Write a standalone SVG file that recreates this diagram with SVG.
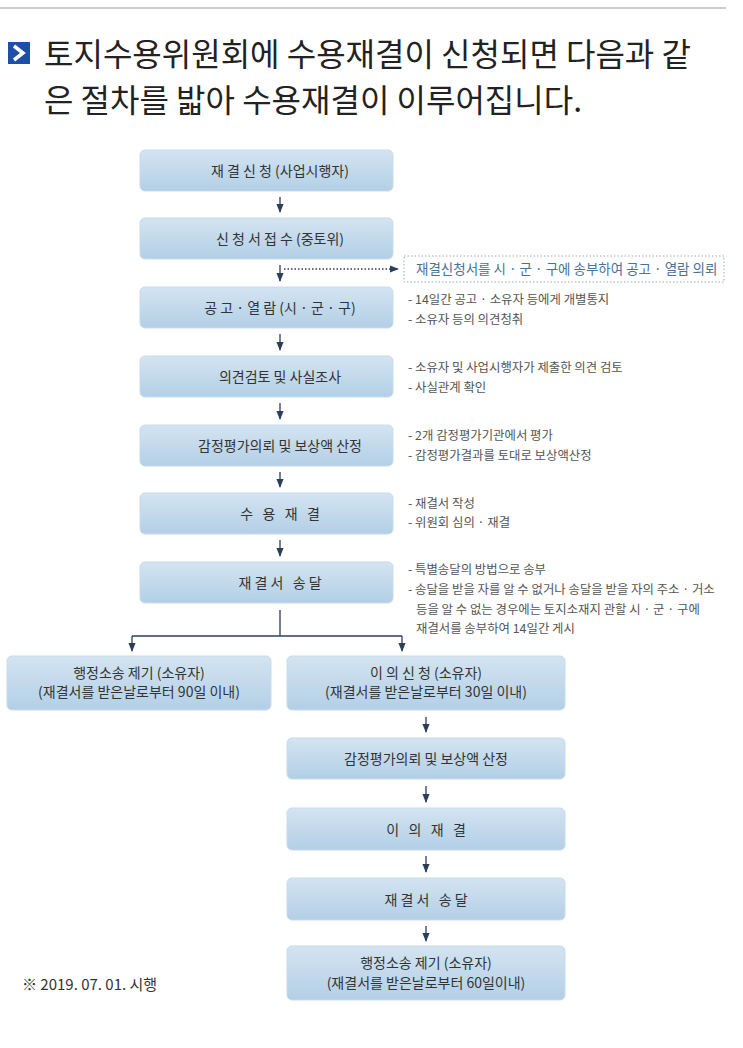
<svg xmlns="http://www.w3.org/2000/svg" width="743" height="1048" viewBox="0 0 743 1048">
<defs>
<linearGradient id="g" x1="0" y1="0" x2="0" y2="1"><stop offset="0" stop-color="#d3e4f1"/><stop offset="1" stop-color="#b3cfe6"/></linearGradient>
<marker id="a" viewBox="0 0 10 10" refX="9" refY="5" markerWidth="7" markerHeight="7" orient="auto"><path d="M0,1 L10,5 L0,9 z" fill="#2c3e5a"/></marker>
<style>
.b{fill:url(#g);stroke:#c8dbea;stroke-width:1}
.t{font-family:"Noto Sans CJK KR",sans-serif;font-size:14px;fill:#333;text-anchor:middle}
.n{font-family:"Noto Sans CJK KR",sans-serif;font-size:12.4px;fill:#555}
.c{stroke:#2c3e5a;stroke-width:1.3;fill:none}
</style>
</defs>
<rect width="743" height="1048" fill="#fff"/>
<line x1="0" y1="8" x2="726" y2="8" stroke="#bbb" stroke-width="1.5"/>
<rect x="8" y="42" width="22" height="22" fill="#1d4fa8"/>
<path d="M14,46 L23,53 L14,60" stroke="#fff" stroke-width="3.5" fill="none"/>
<text x="44" y="66" font-family="Noto Sans CJK KR,sans-serif" font-size="32" fill="#222">토지수용위원회에 수용재결이 신청되면 다음과 같</text>
<text x="44" y="112" font-family="Noto Sans CJK KR,sans-serif" font-size="32" fill="#222">은 절차를 밟아 수용재결이 이루어집니다.</text>
<g id="n1"><rect class="b" x="140" y="150" width="253" height="41" rx="5"/><text class="t" x="280" y="176">재 결 신 청 (사업시행자)</text></g>
<g id="n2"><rect class="b" x="140" y="218" width="253" height="41" rx="5"/><text class="t" x="280" y="244">신 청 서 접 수 (중토위)</text></g>
<g id="n3"><rect class="b" x="140" y="287" width="253" height="41" rx="5"/><text class="t" x="280" y="313">공 고 · 열 람 (시 · 군 · 구)</text></g>
<g id="n4"><rect class="b" x="140" y="356" width="253" height="41" rx="5"/><text class="t" x="280" y="382">의견검토 및 사실조사</text></g>
<g id="n5"><rect class="b" x="140" y="425" width="253" height="41" rx="5"/><text class="t" x="280" y="451">감정평가의뢰 및 보상액 산정</text></g>
<g id="n6"><rect class="b" x="140" y="493" width="253" height="41" rx="5"/><text class="t" x="280" y="519" xml:space="preserve">수   용   재   결</text></g>
<g id="n7"><rect class="b" x="140" y="562" width="253" height="41" rx="5"/><text class="t" x="280" y="588" xml:space="preserve">재 결 서   송 달</text></g>
<g id="n8"><rect class="b" x="7" y="656" width="264" height="54" rx="5"/><text class="t" x="139" y="678" font-size="13">행정소송 제기 (소유자)</text><text class="t" x="139" y="697" font-size="13">(재결서를 받은날로부터 90일 이내)</text></g>
<g id="n9"><rect class="b" x="287" y="656" width="278" height="54" rx="5"/><text class="t" x="426" y="678" font-size="13">이 의 신 청 (소유자)</text><text class="t" x="426" y="697" font-size="13">(재결서를 받은날로부터 30일 이내)</text></g>
<g id="n10"><rect class="b" x="287" y="738" width="278" height="41" rx="5"/><text class="t" x="426" y="764">감정평가의뢰 및 보상액 산정</text></g>
<g id="n11"><rect class="b" x="287" y="808" width="278" height="42" rx="5"/><text class="t" x="426" y="835" xml:space="preserve">이   의   재   결</text></g>
<g id="n12"><rect class="b" x="287" y="878" width="278" height="42" rx="5"/><text class="t" x="426" y="905" xml:space="preserve">재 결 서   송 달</text></g>
<g id="n13"><rect class="b" x="287" y="946" width="278" height="54" rx="5"/><text class="t" x="426" y="968" font-size="13">행정소송 제기 (소유자)</text><text class="t" x="426" y="988" font-size="13">(재결서를 받은날로부터 60일이내)</text></g>
<g id="note"><rect x="404" y="256" width="320" height="26" fill="none" stroke="#9aa" stroke-width="1" stroke-dasharray="1.5,2"/><text x="416" y="274" font-family="Noto Sans CJK KR,sans-serif" font-size="13.5" fill="#4a7294">재결신청서를 시 · 군 · 구에 송부하여 공고 · 열람 의뢰</text></g>
<g id="notes">
<text class="n" x="408" y="304">- 14일간 공고 · 소유자 등에게 개별통지</text>
<text class="n" x="408" y="324">- 소유자 등의 의견청취</text>
<text class="n" x="408" y="372">- 소유자 및 사업시행자가 제출한 의견 검토</text>
<text class="n" x="408" y="392">- 사실관계 확인</text>
<text class="n" x="408" y="440">- 2개 감정평가기관에서 평가</text>
<text class="n" x="408" y="460">- 감정평가결과를 토대로 보상액산정</text>
<text class="n" x="408" y="508">- 재결서 작성</text>
<text class="n" x="408" y="527">- 위원회 심의 · 재결</text>
<text class="n" x="408" y="574">- 특별송달의 방법으로 송부</text>
<text class="n" x="408" y="594">- 송달을 받을 자를 알 수 없거나 송달을 받을 자의 주소 · 거소</text>
<text class="n" x="416" y="614">등을 알 수 없는 경우에는 토지소재지 관할 시 · 군 · 구에</text>
<text class="n" x="416" y="633">재결서를 송부하여 14일간 게시</text>
</g>
<text x="22" y="990" font-family="Noto Sans CJK KR,sans-serif" font-size="15" fill="#333">※ 2019. 07. 01. 시행</text>
<g id="connectors">
<line class="c" x1="280" y1="197" x2="280" y2="212" marker-end="url(#a)"/>
<line class="c" x1="280" y1="265" x2="280" y2="281" marker-end="url(#a)"/>
<line class="c" x1="284" y1="269" x2="398" y2="269" stroke-dasharray="1.5,2" stroke="#778" marker-end="url(#a)"/>
<line class="c" x1="280" y1="334" x2="280" y2="350" marker-end="url(#a)"/>
<line class="c" x1="280" y1="403" x2="280" y2="419" marker-end="url(#a)"/>
<line class="c" x1="280" y1="472" x2="280" y2="487" marker-end="url(#a)"/>
<line class="c" x1="280" y1="540" x2="280" y2="556" marker-end="url(#a)"/>
<path class="c" d="M280,610 V636 M132,636 H402"/>
<line class="c" x1="132" y1="636" x2="132" y2="651" marker-end="url(#a)"/>
<line class="c" x1="402" y1="636" x2="402" y2="651" marker-end="url(#a)"/>
<line class="c" x1="426" y1="717" x2="426" y2="732" marker-end="url(#a)"/>
<line class="c" x1="426" y1="786" x2="426" y2="802" marker-end="url(#a)"/>
<line class="c" x1="426" y1="856" x2="426" y2="872" marker-end="url(#a)"/>
<line class="c" x1="426" y1="926" x2="426" y2="941" marker-end="url(#a)"/>
</g>
</svg>
